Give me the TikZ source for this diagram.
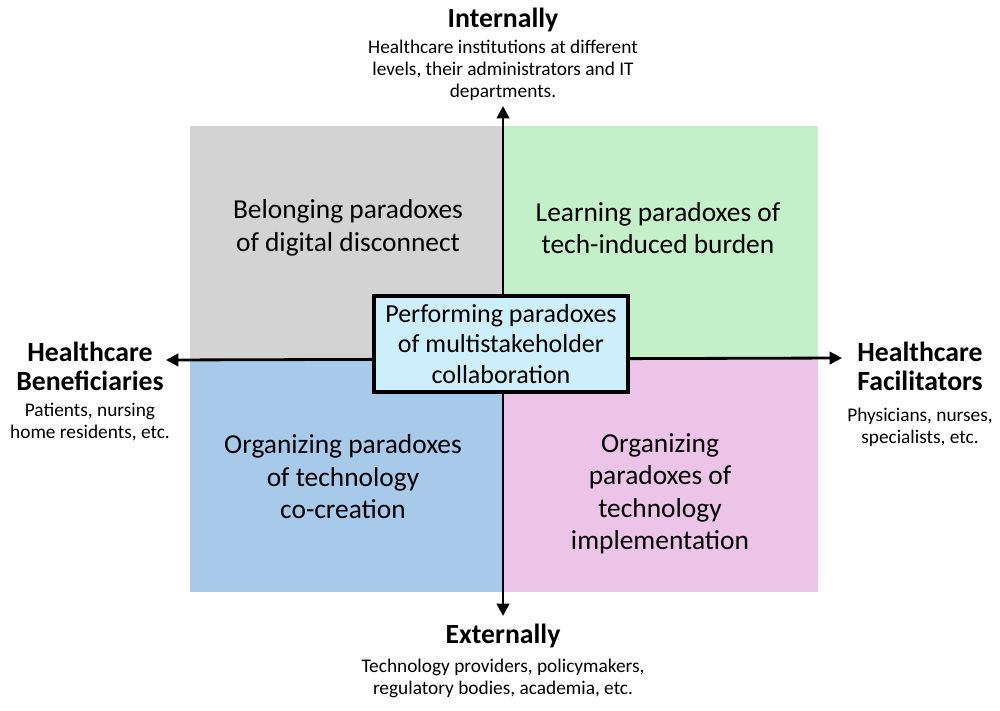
\documentclass[tikz,border=0pt]{standalone}
\usepackage{fontspec}
\setmainfont{Carlito}
\usetikzlibrary{arrows.meta}
\definecolor{qgray}{HTML}{D3D3D3}
\definecolor{qgreen}{HTML}{C4F0C9}
\definecolor{qblue}{HTML}{A7C9EA}
\definecolor{qpink}{HTML}{ECC4E8}
\definecolor{cblue}{HTML}{CDEEFB}
\begin{document}
\begin{tikzpicture}[x=0.02cm,y=-0.02cm,
 quad/.style={minimum width=313*0.02cm,minimum height=233*0.02cm,inner sep=0,anchor=north west},
 qtext/.style={align=center,font=\fontsize{15.6}{18.5}\selectfont},
 head/.style={align=center,font=\fontsize{15.8}{16.5}\selectfont\bfseries},
 desc/.style={align=center,font=\fontsize{11}{12.5}\selectfont},
 axis/.style={line width=1.6pt,-{Triangle[length=7pt,width=7pt]}}]
\useasboundingbox (0,0) rectangle (1000,710);
\node[quad,fill=qgray] (q1) at (190,126) {};
\node[quad,fill=qgreen,minimum width=315*0.02cm] (q2) at (503,126) {};
\node[quad,fill=qblue,minimum height=233*0.02cm] (q3) at (190,359) {};
\node[quad,fill=qpink,minimum width=315*0.02cm] (q4) at (503,359) {};
\coordinate (c) at (503,359);
\coordinate (top) at (503,106);
\coordinate (bot) at (503,616);
\coordinate (lft) at (166,360);
\coordinate (rgt) at (842,358);
\draw[axis] (c) -- (top);
\draw[axis] (c) -- (bot);
\draw[axis] (c) -- (lft);
\draw[axis] (c) -- (rgt);
\node[qtext] (t1) at (348,228) {Belonging paradoxes\\of digital disconnect};
\node[qtext] (t2) at (658,228) {Learning paradoxes of\\tech-induced burden};
\node[qtext] (t3) at (343,477) {Organizing paradoxes\\of technology\\co-creation};
\node[qtext] (t4) at (660,494) {Organizing\\paradoxes of\\technology\\implementation};
\node[align=center,font=\fontsize{14.8}{17.5}\selectfont,draw,line width=2pt,fill=cblue,minimum width=254*0.02cm,minimum height=96*0.02cm] (cen) at (501,344) {Performing paradoxes\\of multistakeholder\\collaboration};
\node[head] (hi) at (503,20) {Internally};
\node[desc] (di) at (503,70) {Healthcare institutions at different\\levels, their administrators and IT\\departments.};
\node[head] (he) at (503,636) {Externally};
\node[desc] (de) at (503,678) {Technology providers, policymakers,\\regulatory bodies, academia, etc.};
\node[head] (hb) at (90,366) {Healthcare\\Beneficiaries};
\node[desc] (db) at (90,422) {Patients, nursing\\home residents, etc.};
\node[head] (hf) at (920,366) {Healthcare\\Facilitators};
\node[desc] (df) at (920,427) {Physicians, nurses,\\specialists, etc.};
\end{tikzpicture}
\end{document}
